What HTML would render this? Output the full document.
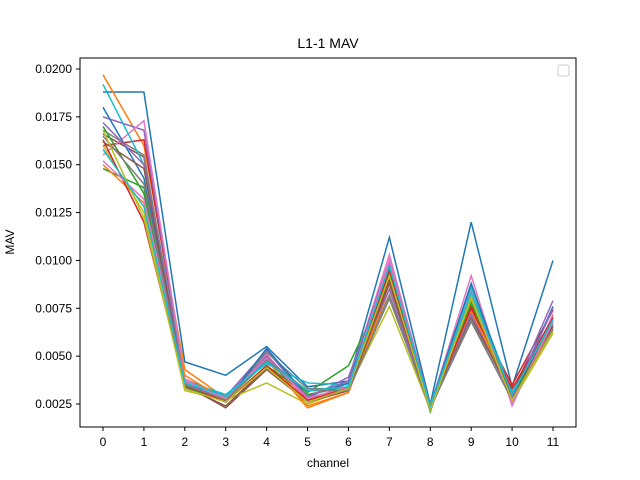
<!DOCTYPE html>
<html><head><meta charset="utf-8"><style>
body{margin:0;background:#fff}
svg{display:block;font-family:"Liberation Sans","DejaVu Sans",sans-serif}
</style></head><body>
<svg id="chart" width="640" height="480" viewBox="0 0 640 480">
<rect width="640" height="480" fill="#fff"/>
<text x="328" y="48" text-anchor="middle" font-size="14">L1-1 MAV</text>
<text x="328" y="467" text-anchor="middle" font-size="12">channel</text>
<text x="14" y="242" text-anchor="middle" font-size="12" transform="rotate(-90 14 242)">MAV</text>
<g id="ticks"></g>
<g id="lines"></g>
<rect x="80" y="58" width="496" height="369" fill="none" stroke="#000" stroke-width="1"/>
<rect x="558" y="65" width="11" height="11" rx="2" fill="#fff" stroke="#ccc"/>
</svg>
<script>
const categories=[0,1,2,3,4,5,6,7,8,9,10,11];
const yTicks=[0.0025,0.0050,0.0075,0.0100,0.0125,0.0150,0.0175,0.0200];
const yTickLabels=["0.0025","0.0050","0.0075","0.0100","0.0125","0.0150","0.0175","0.0200"];
const s1=[0.0188,0.0188,0.0047,0.0040,0.0055,0.0034,0.0037,0.0112,0.0025,0.0120,0.0034,0.0100];
const s2=[0.0197,0.0160,0.0043,0.0028,0.0050,0.0024,0.0031,0.0088,0.0023,0.0078,0.0030,0.0068];
const s3=[0.0148,0.0138,0.0036,0.0027,0.0047,0.0031,0.0045,0.0090,0.0021,0.0084,0.0029,0.0071];
const s4=[0.0160,0.0163,0.0038,0.0029,0.0049,0.0027,0.0034,0.0092,0.0024,0.0076,0.0035,0.0074];
const s5=[0.0175,0.0168,0.0037,0.0029,0.0053,0.0028,0.0039,0.0098,0.0023,0.0080,0.0030,0.0079];
const s6=[0.0166,0.0154,0.0035,0.0023,0.0043,0.0026,0.0032,0.0090,0.0023,0.0072,0.0031,0.0070];
const s7=[0.0155,0.0173,0.0038,0.0028,0.0051,0.0026,0.0036,0.0103,0.0024,0.0092,0.0024,0.0072];
const s8=[0.0168,0.0155,0.0036,0.0027,0.0052,0.0033,0.0033,0.0082,0.0023,0.0068,0.0027,0.0065];
const s9=[0.0160,0.0125,0.0032,0.0027,0.0036,0.0025,0.0033,0.0076,0.0022,0.0082,0.0026,0.0062];
const s10=[0.0192,0.0150,0.0037,0.0030,0.0046,0.0036,0.0035,0.0096,0.0024,0.0086,0.0031,0.0067];
const s11=[0.0180,0.0143,0.0035,0.0026,0.0054,0.0029,0.0036,0.0100,0.0024,0.0088,0.0028,0.0076];
const s12=[0.0150,0.0130,0.0040,0.0027,0.0048,0.0023,0.0031,0.0085,0.0025,0.0074,0.0029,0.0064];
const s13=[0.0170,0.0135,0.0034,0.0026,0.0045,0.0030,0.0034,0.0094,0.0022,0.0078,0.0028,0.0068];
const s14=[0.0163,0.0120,0.0035,0.0026,0.0045,0.0027,0.0033,0.0095,0.0024,0.0075,0.0033,0.0070];
const s15=[0.0172,0.0150,0.0036,0.0027,0.0050,0.0029,0.0037,0.0085,0.0022,0.0072,0.0028,0.0075];
const s16=[0.0162,0.0148,0.0034,0.0024,0.0044,0.0026,0.0032,0.0088,0.0023,0.0070,0.0030,0.0066];
const s17=[0.0152,0.0132,0.0037,0.0028,0.0049,0.0028,0.0034,0.0100,0.0023,0.0084,0.0025,0.0068];
const s18=[0.0165,0.0140,0.0035,0.0027,0.0048,0.0032,0.0032,0.0080,0.0023,0.0069,0.0027,0.0064];
const s19=[0.0168,0.0122,0.0033,0.0026,0.0044,0.0026,0.0033,0.0092,0.0022,0.0080,0.0027,0.0063];
const s20=[0.0158,0.0128,0.0036,0.0029,0.0047,0.0032,0.0034,0.0097,0.0024,0.0083,0.0030,0.0069];
const series=[s1,s2,s3,s4,s5,s6,s7,s8,s9,s10,s11,s12,s13,s14,s15,s16,s17,s18,s19,s20];
const colors=["#1f77b4","#ff7f0e","#2ca02c","#d62728","#9467bd","#8c564b","#e377c2","#7f7f7f","#bcbd22","#17becf"];
const NS="http://www.w3.org/2000/svg";
function xPos(i){return 103+i*(553-103)/11;}
function yPos(v){return 404-(v-0.0025)/0.0025*((404-69)/7);}
const tg=document.getElementById('ticks');
categories.forEach((c,i)=>{
  const l=document.createElementNS(NS,'line');
  l.setAttribute('x1',xPos(i));l.setAttribute('x2',xPos(i));l.setAttribute('y1',427);l.setAttribute('y2',431);l.setAttribute('stroke','#000');
  
  
  tg.appendChild(l);
  const t=document.createElementNS(NS,'text');
  t.setAttribute('x',xPos(i));t.setAttribute('y',446);t.setAttribute('text-anchor','middle');t.setAttribute('font-size','12');
  t.textContent=c;
  
  
  tg.appendChild(t);
});
yTicks.forEach((v,i)=>{
  const l=document.createElementNS(NS,'line');
  l.setAttribute('x1',76);l.setAttribute('x2',80);l.setAttribute('y1',yPos(v));l.setAttribute('y2',yPos(v));l.setAttribute('stroke','#000');
  
  
  tg.appendChild(l);
  const t=document.createElementNS(NS,'text');
  t.setAttribute('x',72);t.setAttribute('y',yPos(v)+4);t.setAttribute('text-anchor','end');t.setAttribute('font-size','12');
  t.textContent=yTickLabels[i];
  
  
  tg.appendChild(t);
});
const lg=document.getElementById('lines');
series.forEach((s,k)=>{
  const p=document.createElementNS(NS,'polyline');
  p.setAttribute('points',s.map((v,i)=>xPos(i)+','+yPos(v)).join(' '));
  p.setAttribute('fill','none');p.setAttribute('stroke',colors[k%10]);p.setAttribute('stroke-width','1.5');
  
  
  lg.appendChild(p);
});
</script>
</body></html>
